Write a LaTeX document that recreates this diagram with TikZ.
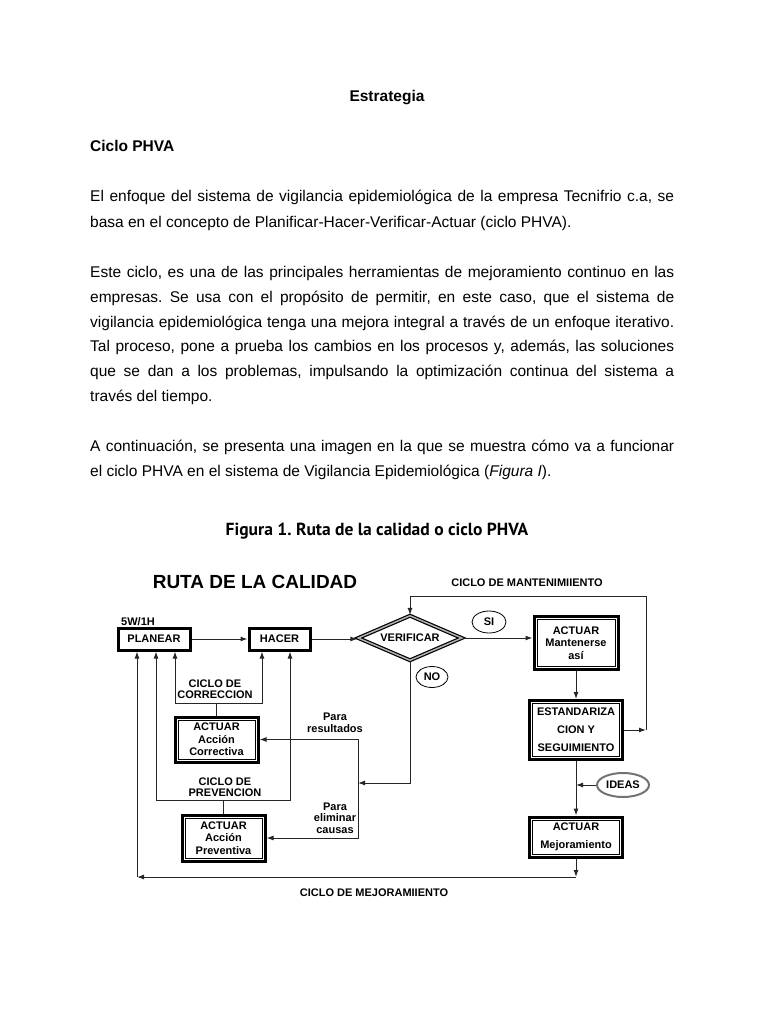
\documentclass[tikz,border=0pt]{standalone}
\usepackage{fontspec}
\setmainfont{Liberation Sans}
\newfontfamily\capfont{PT Sans}
\usetikzlibrary{shapes.geometric,arrows.meta}
\newcommand{\fullline}[1]{\makebox[584pt][s]{#1}}
\frenchspacing

\begin{document}
\begin{tikzpicture}[x=1pt, y=-1pt, >={Latex[length=7pt,width=5pt]},
    body/.style={anchor=base west, inner sep=0, font=\fontsize{15.5}{25}\selectfont},
    box/.style={rectangle, draw, line width=3pt, align=center, inner sep=0, font=\bfseries\fontsize{11}{12.5}\selectfont},
    actbox/.style={box, path picture={\draw[line width=0.8pt] ([xshift=3pt,yshift=-3pt]path picture bounding box.north west) rectangle ([xshift=-3pt,yshift=3pt]path picture bounding box.south east);}},
    tag/.style={ellipse, draw, line width=0.8pt, inner sep=0, font=\bfseries\fontsize{11}{12}\selectfont},
    lbl/.style={align=center, inner sep=0, font=\bfseries\fontsize{11}{11.5}\selectfont},
    line/.style={draw, line width=1pt, black!85}]

    \useasboundingbox (0,0) rectangle (768,1024);

    % page text
    \node [body, anchor=base, font=\bfseries\fontsize{15.5}{25}\selectfont] (titulo) at (387,102) {Estrategia};
    \node [body, font=\bfseries\fontsize{15.5}{25}\selectfont] (ciclo) at (90,152) {Ciclo PHVA};

    \node [body] (pa1) at (90,202) {\fullline{El enfoque del sistema de vigilancia epidemiológica de la empresa Tecnifrio c.a, se}};
    \node [body] (pa2) at (90,227) {basa en el concepto de Planificar-Hacer-Verificar-Actuar (ciclo PHVA).};

    \node [body] (pb1) at (90,277) {\fullline{Este ciclo, es una de las principales herramientas de mejoramiento continuo en las}};
    \node [body] (pb2) at (90,302) {\fullline{empresas. Se usa con el propósito de permitir, en este caso, que el sistema de}};
    \node [body] (pb3) at (90,327) {\fullline{vigilancia epidemiológica tenga una mejora integral a través de un enfoque iterativo.}};
    \node [body] (pb4) at (90,351) {\fullline{Tal proceso, pone a prueba los cambios en los procesos y, además, las soluciones}};
    \node [body] (pb5) at (90,376) {\fullline{que se dan a los problemas, impulsando la optimización continua del sistema a}};
    \node [body] (pb6) at (90,401) {través del tiempo.};

    \node [body] (pc1) at (90,451) {\fullline{A continuación, se presenta una imagen en la que se muestra cómo va a funcionar}};
    \node [body] (pc2) at (90,476) {el ciclo PHVA en el sistema de Vigilancia Epidemiológica (\textit{Figura I}).};

    % figure
    \node [inner sep=0, font=\capfont\bfseries\fontsize{17.5}{18}\selectfont] (figcap) at (377,531) {Figura 1. Ruta de la calidad o ciclo PHVA};
    \node [inner sep=0, font=\bfseries\fontsize{19}{20}\selectfont] (ruta) at (255,582) {RUTA DE LA CALIDAD};

    \node [box, minimum width=72pt, minimum height=22pt] (planear) at (154,639) {PLANEAR};
    \node [lbl] (wh) at (138,622) {5W/1H};
    \node [box, minimum width=61pt, minimum height=22pt] (hacer) at (279.5,639) {HACER};
    \node [diamond, draw, line width=1.2pt, double=black!30, double distance=1.5pt, aspect=2.3, inner sep=0,
           minimum width=104pt, minimum height=45pt, font=\bfseries\fontsize{11}{12}\selectfont] (verificar) at (410,638) {VERIFICAR};
    \node [actbox, minimum width=84pt, minimum height=53pt] (mantener) at (576,643) {ACTUAR\\Mantenerse\\así};
    \node [actbox, minimum width=93pt, minimum height=59pt, font=\bfseries\fontsize{11}{18}\selectfont] (estandar) at (576,730) {ESTANDARIZA\\CION Y\\SEGUIMIENTO};
    \node [actbox, minimum width=93pt, minimum height=40pt, font=\bfseries\fontsize{11}{18}\selectfont] (mejora) at (576,837) {ACTUAR\\Mejoramiento};
    \node [actbox, minimum width=83pt, minimum height=45pt] (correctiva) at (216.5,739.5) {ACTUAR\\Acción\\Correctiva};
    \node [actbox, minimum width=83pt, minimum height=46pt] (preventiva) at (223.5,838) {ACTUAR\\Acción\\Preventiva};

    \node [tag, minimum width=34pt, minimum height=22pt] (si) at (489,622) {SI};
    \node [tag, minimum width=32pt, minimum height=21pt] (no) at (432,677) {NO};
    \node [tag, draw=black!55, line width=2pt, minimum width=52pt, minimum height=24pt] (ideas) at (623,785) {IDEAS};

    \node [lbl] (mantlbl) at (527,583) {CICLO DE MANTENIMIIENTO};
    \node [lbl] (mejlbl) at (374,893) {CICLO DE MEJORAMIIENTO};
    \node [lbl] (corlbl) at (215,689) {CICLO DE\\CORRECCION};
    \node [lbl] (prevlbl) at (225,787) {CICLO DE\\PREVENCION};
    \node [lbl] (resul) at (335,723) {Para\\resultados};
    \node [lbl] (causas) at (335,818) {Para\\eliminar\\causas};

    \coordinate (mt) at (646,596);
    \coordinate (mjR) at (576,877);
    \coordinate (mjL) at (137,877);
    \coordinate (crL) at (175,703);
    \coordinate (crR) at (262,703);
    \coordinate (pvL) at (156,800);
    \coordinate (pvR) at (290,800);
    \coordinate (noB) at (410,783);
    \coordinate (noL) at (358,783);

    % main row
    \path [line, ->] (planear) -- (hacer);
    \path [line, ->] (hacer) -- (hacer -| verificar.west);
    \path [line, ->] (verificar.east) -- (verificar.east -| mantener.west);
    \path [line, ->] (mantener) -- (estandar);
    \path [line, ->] (estandar) -- (mejora);
    \path [line, ->] (ideas) -- (ideas.west -| estandar.south);

    % mantenimiento
    \path [line, ->] (estandar.east) -- (estandar.east -| mt);
    \path [line, ->] (estandar.east -| mt) -- (mt) -- (mt -| verificar.north) -- (verificar.north);

    % mejoramiento
    \path [line, ->] (mejora) -- (mjR);
    \path [line, ->] (mjR) -- (mjL);
    \path [line, ->] (mjL) -- (mjL |- planear.south);

    % correccion y prevencion
    \path [line, <->] (planear.south -| crL) -- (crL) -- (crR) -- (crR |- hacer.south);
    \path [line] (correctiva.north) -- (correctiva.north |- crL);
    \path [line, <->] (planear.south -| pvL) -- (pvL) -- (pvR) -- (pvR |- hacer.south);
    \path [line] (preventiva.north) -- (preventiva.north |- pvL);

    % NO
    \path [line, ->] (verificar.south) -- (noB) -- (noL);
    \path [line, <->] (correctiva.east) -- (correctiva.east -| noL) -- (preventiva.east -| noL) -- (preventiva.east);
\end{tikzpicture}
\end{document}
